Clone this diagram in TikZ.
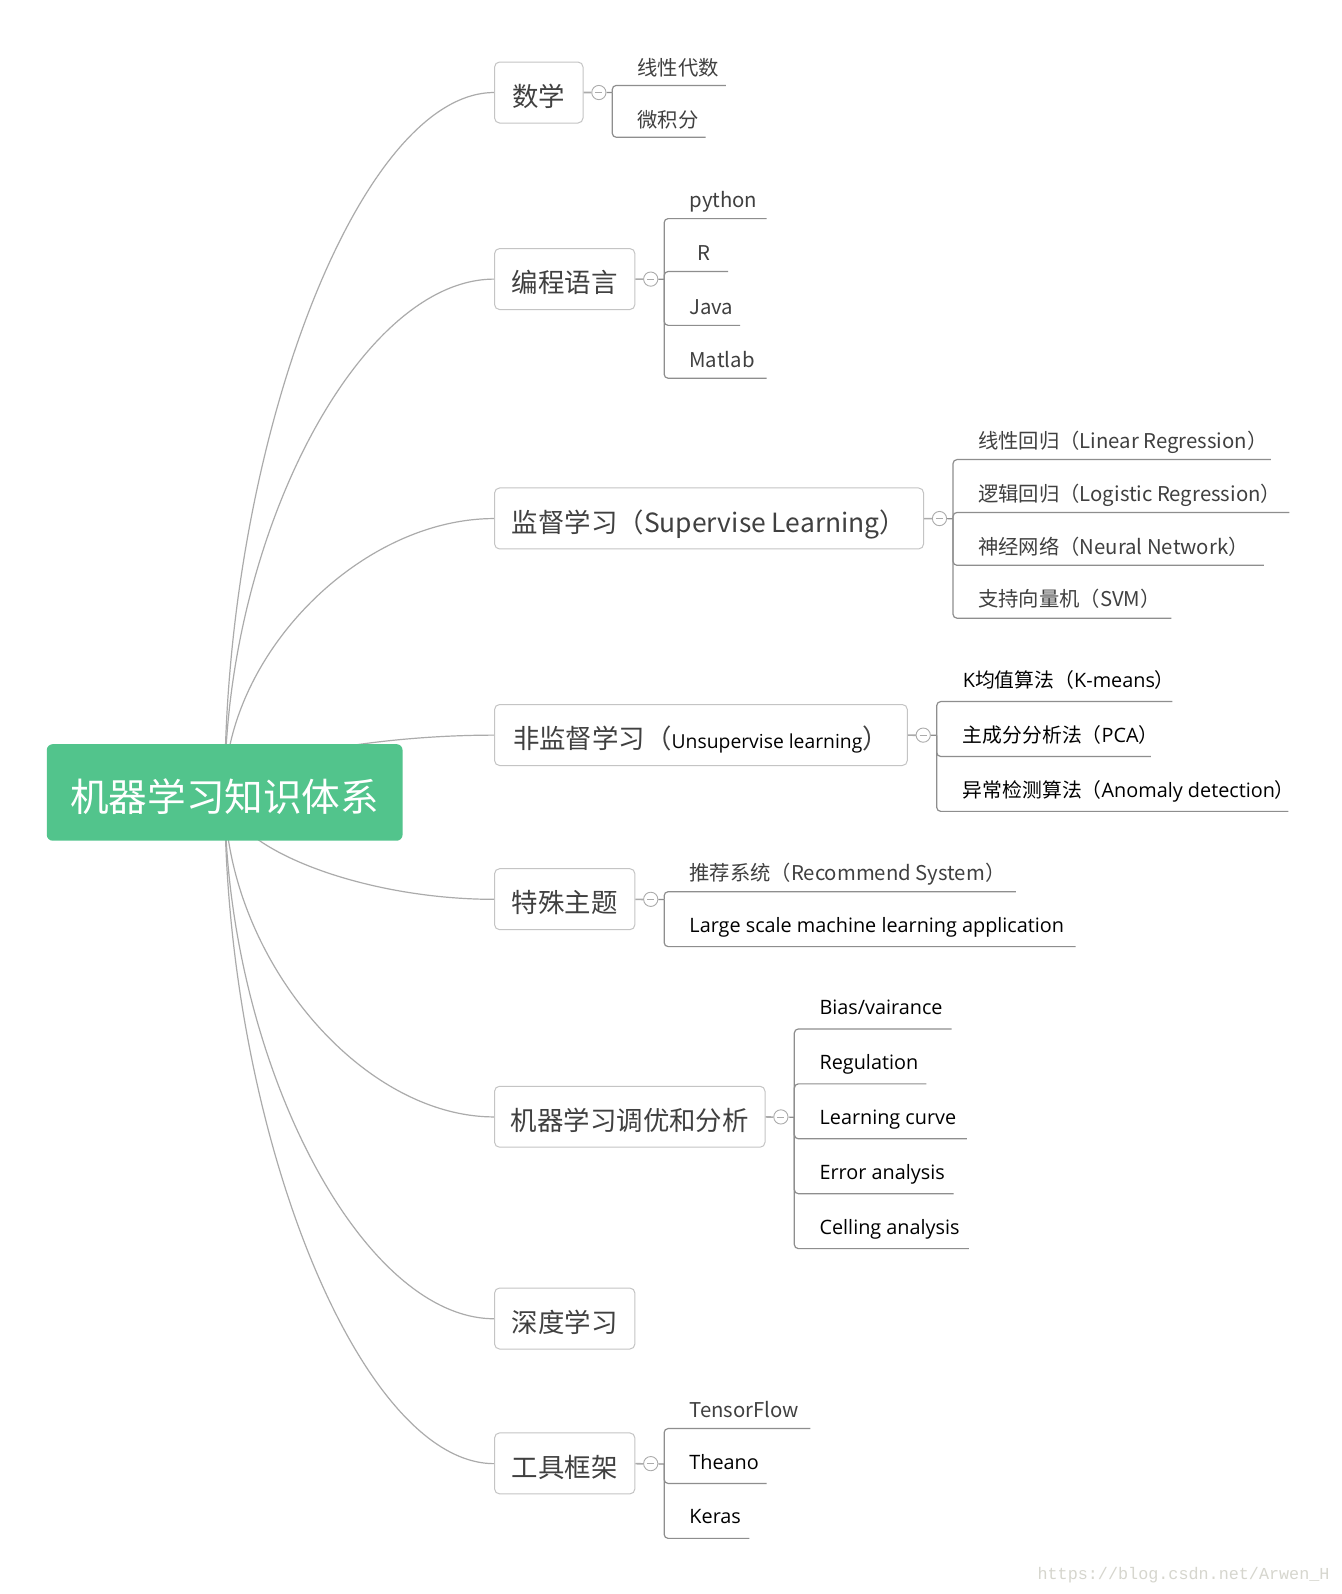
\documentclass[tikz,border=0pt]{standalone}
\usepackage{fontspec}
\setmainfont{Open Sans}
\newfontfamily\cjk{Noto Sans CJK SC}
\newfontfamily\wmfont{Liberation Mono}
\usetikzlibrary{calc,backgrounds}
\definecolor{rootg}{HTML}{52C48C}
\definecolor{linec}{HTML}{ABABAB}
\definecolor{boxc}{HTML}{C4C4C4}
\definecolor{ulc}{HTML}{8E8E8E}
\definecolor{txtg}{HTML}{404040}
\definecolor{wmc}{HTML}{D6D6CE}
\tikzset{
  rootbox/.style={fill=rootg, rounded corners=6, minimum width=350, minimum height=95, inner sep=0, text height=37.8, text depth=0, text=white, font=\cjk\fontsize{38}{44}\selectfont},
  branch/.style={draw=boxc, line width=1, fill=white, rounded corners=5, minimum height=60, inner sep=0, text height=26.8, text depth=0, text=txtg, font=\cjk\fontsize{26}{30}\selectfont, anchor=west},
  tog/.style={circle, draw=linec, line width=0.9, fill=white, minimum size=14, inner sep=0,
    path picture={\draw[linec, line width=0.8] ([xshift=-3.5pt]path picture bounding box.center) -- ([xshift=3.5pt]path picture bounding box.center);}},
  conn/.style={draw=linec, line width=1.2},
  stub/.style={draw=linec, line width=1.6},
  uline/.style={draw=ulc, line width=1.2, rounded corners=4},
  leafg/.style={text=txtg, font=\cjk\fontsize{20}{24}\selectfont, inner sep=0},
  leafb/.style={text=black, font=\fontsize{19.5}{23}\selectfont, inner sep=0},
}
% name, junction, text x, underline y, underline end x, style, baseline offset, text
\newcommand\leafat[8]{%
  \node[#6, anchor=base west] (#1) at (#3, #4-#7) {#8};
  \coordinate (#1u) at (#5, #4);
  \draw[uline] (#2) |- (#1u);
}
\begin{document}
\begin{tikzpicture}[x=1pt, y=-1pt, scale=1.0166, every node/.append style={transform shape}]

\node[rootbox] (root) at (221,779.5) {机器学习知识体系};

\node[branch, minimum width=87] (b1) at (486,91) {数学};
\node[branch, minimum width=138] (b2) at (486,274.5) {编程语言};
\node[branch, minimum width=422] (b3) at (486,510) {监督学习（Supervise Learning）};
\node[branch, minimum width=406] (b4) at (486,723) {非监督学习（{\normalfont\fontsize{19}{22}\selectfont\color{black}Unsupervise learning}）};
\node[branch, minimum width=138] (b5) at (486,884.5) {特殊主题};
\node[branch, minimum width=266] (b6) at (486,1098.5) {机器学习调优和分析};
\node[branch, minimum width=138] (b7) at (486,1297) {深度学习};
\node[branch, minimum width=138] (b8) at (486,1439.5) {工具框架};

\foreach \i in {1,2,3,4,5,6,8}{
  \node[tog] (c\i) at ($(b\i.east)+(15,0)$) {};
  \coordinate (j\i) at ($(c\i.center)+(13,0)$);
  \draw[stub] (b\i.east) -- (c\i.west);
  \draw[uline] (c\i.east) -- (j\i);
}

% group 1
\leafat{l11}{j1}{627}{84}{714}{leafg}{10}{线性代数}
\leafat{l12}{j1}{627}{135}{694}{leafg}{10}{微积分}
% group 2
\leafat{l21}{j2}{678}{215}{754}{leafg}{11}{python}
\leafat{l22}{j2}{686}{267}{716}{leafg}{11}{R}
\leafat{l23}{j2}{678}{320}{728}{leafg}{11}{Java}
\leafat{l24}{j2}{678}{372}{754}{leafg}{11}{Matlab}
% group 3
\leafat{l31}{j3}{962}{452}{1250}{leafg}{11}{线性回归（Linear Regression）}
\leafat{l32}{j3}{962}{504}{1268}{leafg}{11}{逻辑回归（Logistic Regression）}
\leafat{l33}{j3}{962}{556}{1243}{leafg}{11}{神经网络（Neural Network）}
\leafat{l34}{j3}{962}{608}{1152}{leafg}{11}{支持向量机（SVM）}
% group 4
\leafat{l41}{j4}{947}{690}{1153}{leafb}{14}{K{\cjk 均值算法（}K-means{\cjk ）}}
\leafat{l42}{j4}{947}{744}{1132}{leafb}{14}{{\cjk 主成分分析法（}PCA{\cjk ）}}
\leafat{l43}{j4}{947}{798}{1267}{leafb}{14}{{\cjk 异常检测算法（}Anomaly detection{\cjk ）}}
% group 5
\leafat{l51}{j5}{678}{877}{999}{leafg}{11}{推荐系统（Recommend System）}
\leafat{l52}{j5}{678}{931}{1058}{leafb}{14}{Large scale machine learning application}
% group 6
\leafat{l61}{j6}{806}{1012}{936}{leafb}{14}{Bias/vairance}
\leafat{l62}{j6}{806}{1066}{911}{leafb}{14}{Regulation}
\leafat{l63}{j6}{806}{1120}{951}{leafb}{14}{Learning curve}
\leafat{l64}{j6}{806}{1174}{938}{leafb}{14}{Error analysis}
\leafat{l65}{j6}{806}{1228}{953}{leafb}{14}{Celling analysis}
% group 8
\leafat{l81}{j8}{678}{1405}{797}{leafg}{11}{TensorFlow}
\leafat{l82}{j8}{678}{1459}{754}{leafb}{14}{Theano}
\leafat{l83}{j8}{678}{1513}{737}{leafb}{14}{Keras}

\node[anchor=base east, inner sep=0, text=wmc, font=\wmfont\fontsize{16.5}{20}\selectfont] (wm) at (1308,1554) {https://blog.csdn.net/Arwen\_H};

\begin{pgfonlayer}{background}
  \fill[white] (0,0) rectangle (1320.09,1567.97);
  \foreach \i in {1,...,8}{
    \coordinate (m\i) at ($(root.center)!0.5!(b\i.west)$);
    \draw[conn] (root.center) .. controls (root.center |- m\i) and (m\i |- b\i.west) .. (b\i.west);
  }
\end{pgfonlayer}

\pgfresetboundingbox
\useasboundingbox (0,0) rectangle (1320.09,1567.97);
\end{tikzpicture}
\end{document}
